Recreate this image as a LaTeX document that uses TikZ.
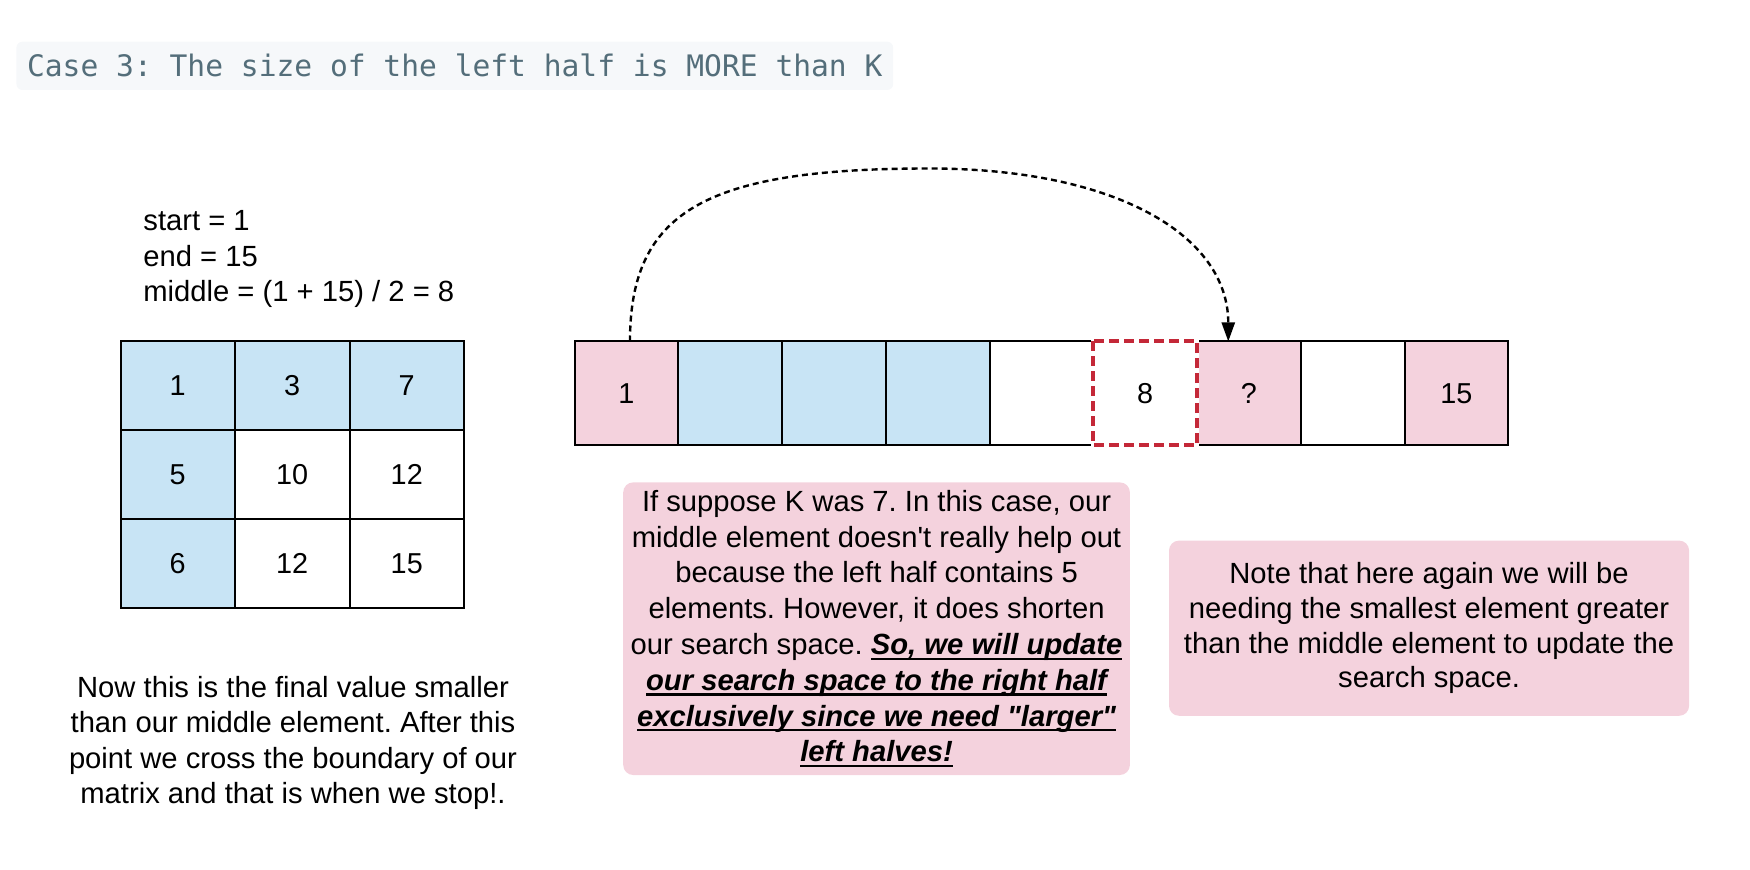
\documentclass[tikz,border=0pt]{standalone}
\usepackage{fontspec}
\newfontfamily\lib{Liberation Sans}
\newfontfamily\dmono{DejaVu Sans Mono}
\usetikzlibrary{arrows.meta,positioning}
\frenchspacing
\definecolor{pinkc}{RGB}{244,210,221}
\definecolor{bluec}{RGB}{200,228,245}
\definecolor{redc}{RGB}{196,40,56}
\definecolor{titlebg}{RGB}{246,248,250}
\definecolor{titlefg}{RGB}{84,110,122}
\newcommand\bul[1]{{\bfseries\itshape\setbox0=\hbox{#1}\rlap{\rule[-2.6pt]{\wd0}{1.1pt}}\box0}}
\begin{document}
\begin{tikzpicture}[x=0.5pt,y=-0.5pt,
  txt/.style={font=\lib\frenchspacing\fontsize{14.6pt}{17.75pt}\selectfont, inner sep=0pt},
  acell/.style={draw=black, line width=1pt, minimum width=51.875pt, minimum height=52pt,
    inner sep=0pt, outer sep=0pt, font=\lib\fontsize{14.4pt}{17.5pt}\selectfont},
  mcell/.style={draw=black, line width=1pt, minimum width=57.25pt, minimum height=44.4pt,
    inner sep=0pt, outer sep=0pt, font=\lib\fontsize{14.4pt}{17.5pt}\selectfont},
  note/.style={fill=pinkc, rounded corners=5pt, align=center, inner sep=0pt},
  titlebox/.style={fill=titlebg, rounded corners=3pt, inner xsep=5.35pt, inner ysep=0pt,
    minimum height=24.15pt, text=titlefg, font=\dmono\frenchspacing\fontsize{14.8pt}{17pt}\selectfont},
  conn/.style={dash pattern=on 3pt off 2pt, line width=1.2pt,
    -{Triangle[length=9.5pt,width=6.5pt]}},
  midframe/.style={draw=redc, line width=2pt, dash pattern=on 5pt off 2.5pt,
    preaction={draw=white, solid, line width=2pt}}
]
\useasboundingbox (0,0) rectangle (1750,870);

% title
\node[titlebox, anchor=west] (title) at (16,65.85) {Case 3: The size of the left half is MORE than K};

% variables (base anchor = baseline of the last line)
\node[txt, anchor=base west, align=left] (vars) at (143,302)
  {start = 1\\end = 15\\middle = (1 + 15) / 2 = 8};

% matrix
\node[mcell, fill=bluec, anchor=north west] (m11) at (120.5,341.5) {1};
\node[mcell, fill=bluec, right=0pt of m11] (m12) {3};
\node[mcell, fill=bluec, right=0pt of m12] (m13) {7};
\node[mcell, fill=bluec, below=0pt of m11] (m21) {5};
\node[mcell, fill=white, right=0pt of m21] (m22) {10};
\node[mcell, fill=white, right=0pt of m22] (m23) {12};
\node[mcell, fill=bluec, below=0pt of m21] (m31) {6};
\node[mcell, fill=white, right=0pt of m31] (m32) {12};
\node[mcell, fill=white, right=0pt of m32] (m33) {15};

% explanation under matrix
\node[txt, anchor=base, align=center] (expl) at (293,803.5)
  {Now this is the final value smaller\\than our middle element. After this\\point we cross the boundary of our\\matrix and that is when we stop!.};

% array
\node[acell, fill=pinkc, anchor=north west] (c1) at (574.5,341.5) {1};
\node[acell, fill=bluec, right=0pt of c1] (c2) {};
\node[acell, fill=bluec, right=0pt of c2] (c3) {};
\node[acell, fill=bluec, right=0pt of c3] (c4) {};
\node[acell, fill=white, right=0pt of c4] (c5) {};
\node[acell, fill=white, right=0pt of c5] (c6) {8};
\node[acell, fill=pinkc, right=0pt of c6] (c7) {?};
\node[acell, fill=white, right=0pt of c7] (c8) {};
\node[acell, fill=pinkc, right=0pt of c8] (c9) {15};
\draw[midframe] (c6.north west) rectangle (c6.south east);

% arrow
\coordinate (peak) at (929.2,168.5);
\draw[conn] ([xshift=1.8pt]c1.north) .. controls +(0,-130) and +(-224,0) .. (peak)
  .. controls +(185,0) and +(0,-107) .. ([xshift=-10.3pt]c7.north);

% notes
\node[note, minimum width=253.35pt, minimum height=146.3pt, anchor=north west,
  font=\lib\frenchspacing\fontsize{14.6pt}{17.9pt}\selectfont] (n1) at (622.8,482)
  {If suppose K was 7. In this case, our\\
   middle element doesn't really help out\\
   because the left half contains 5\\
   elements. However, it does shorten\\
   our search space. \bul{So, we will update}\\
   \bul{our search space to the right half}\\
   \bul{exclusively since we need "larger"}\\
   \bul{left halves!}};
\node[note, minimum width=260.05pt, minimum height=87.6pt, anchor=north west,
  font=\lib\frenchspacing\fontsize{14.6pt}{17.4pt}\selectfont] (n2) at (1168.6,540.2)
  {Note that here again we will be\\
   needing the smallest element greater\\
   than the middle element to update the\\
   search space.};
\end{tikzpicture}
\end{document}
